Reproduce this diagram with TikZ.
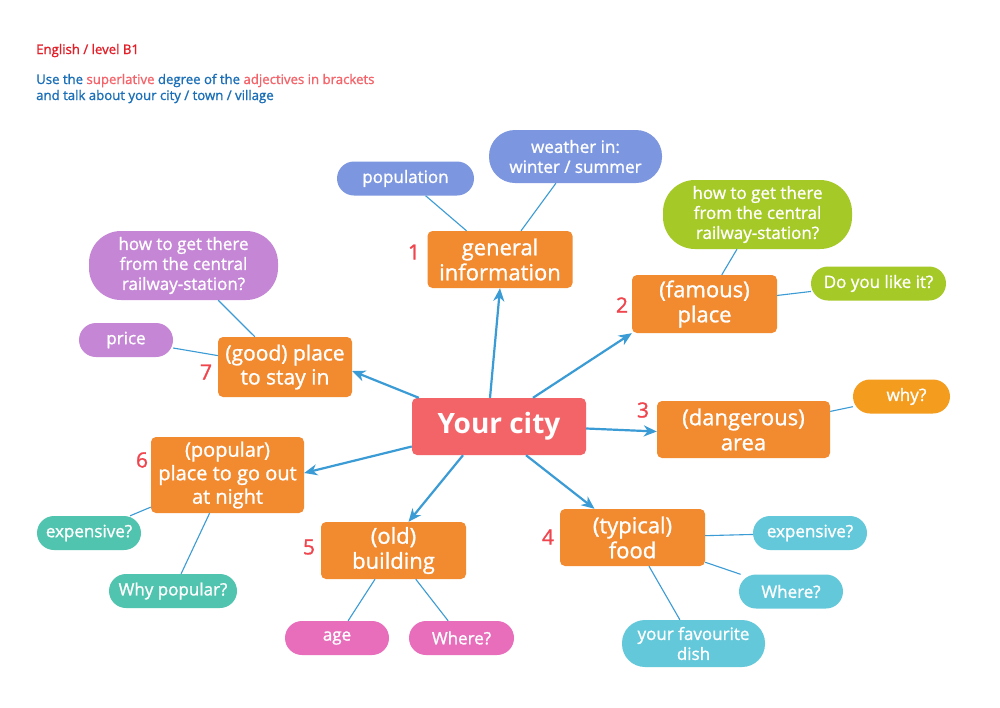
\documentclass[tikz,border=0pt]{standalone}
\usepackage{fontspec}
\setmainfont{Open Sans}
\newfontfamily\semifont{Open Sans}[FakeBold=1.2]
\usepackage{tikz}
\usetikzlibrary{arrows.meta}

\definecolor{boxorange}{HTML}{F28A30}
\definecolor{cityred}{HTML}{F26468}
\definecolor{linkblue}{HTML}{3A9BD5}
\definecolor{numred}{HTML}{F0454D}
\definecolor{titlered}{HTML}{E3202A}
\definecolor{titleblue}{HTML}{1A6FB8}
\definecolor{titlepink}{HTML}{F4646A}
\definecolor{genblue}{HTML}{7C96E0}
\definecolor{famgreen}{HTML}{A5C926}
\definecolor{whyorange}{HTML}{F39C1E}
\definecolor{foodcyan}{HTML}{63C9DA}
\definecolor{bldpink}{HTML}{E86DBB}
\definecolor{popteal}{HTML}{50C4AE}
\definecolor{staypurple}{HTML}{C486D5}

\begin{document}
\begin{tikzpicture}[x=1pt,y=-1pt,
    box/.style={fill=boxorange, text=white, rounded corners=5pt, align=center, inner sep=0pt, font=\semifont\fontsize{22}{25}\selectfont},
    bubble/.style={text=white, align=center, inner sep=0pt, minimum height=34pt, rounded corners=17pt, font=\semifont\fontsize{17}{20}\selectfont},
    num/.style={text=numred, inner sep=0pt, font=\semifont\fontsize{21}{21}\selectfont},
    twig/.style={draw=linkblue, line width=1.1pt},
    branch/.style={draw=linkblue, line width=2.2pt, -{Stealth[length=13pt,width=11pt,inset=4pt]}}]
        \fill[white] (0,0) rectangle (1000,707);
        \useasboundingbox (0,0) rectangle (1000,707);
        \node[anchor=base west, inner sep=0pt, text=titlered, font=\semifont\fontsize{13.2}{16}\selectfont] (title) at (36,54) {English / level B1};
        \node[anchor=base west, inner sep=0pt, text=titleblue, font=\semifont\fontsize{13.2}{16}\selectfont] (task1) at (36,84) {Use the \textcolor{titlepink}{superlative} degree of the \textcolor{titlepink}{adjectives in brackets}};
        \node[anchor=base west, inner sep=0pt, text=titleblue, font=\semifont\fontsize{13.2}{16}\selectfont] (task2) at (36,100) {and talk about your city / town / village};
        \node[fill=cityred, text=white, rounded corners=5pt, inner sep=0pt, minimum width=174pt, minimum height=57pt, font=\fontsize{28}{30}\selectfont\bfseries] (city) at (499,426.5) {Your city};
        \node[box, minimum width=145pt, minimum height=57pt] (general) at (500,259.5) {general\\information};
        \node[box, minimum width=145pt, minimum height=58pt] (famous) at (704.5,304) {(famous)\\place};
        \node[box, minimum width=173pt, minimum height=57pt] (dangerous) at (743.5,429.5) {(dangerous)\\area};
        \node[box, minimum width=145pt, minimum height=57pt] (food) at (632.5,537.5) {(typical)\\food};
        \node[box, minimum width=145pt, minimum height=57pt] (building) at (393.5,550.5) {(old)\\building};
        \node[box, minimum width=153pt, minimum height=76pt, font=\semifont\fontsize{20}{23.5}\selectfont] (popular) at (227.5,475) {(popular)\\place to go out\\at night};
        \node[box, minimum width=134pt, minimum height=60pt, font=\semifont\fontsize{21}{24}\selectfont] (stay) at (285,367) {(good) place\\to stay in};
        \node[num] (n1) at (414,252) {1};
        \node[num] (n2) at (622,305) {2};
        \node[num] (n3) at (643,410) {3};
        \node[num] (n4) at (548,537) {4};
        \node[num] (n5) at (309,547) {5};
        \node[num] (n6) at (142,460) {6};
        \node[num] (n7) at (206,372) {7};
        \node[bubble, fill=genblue, minimum width=137pt] (population) at (405.5,178.5) {population};
        \node[bubble, fill=genblue, minimum width=173pt, minimum height=53pt, rounded corners=26pt] (weather) at (575.5,156.5) {weather in:\\winter / summer};
        \node[bubble, fill=famgreen, minimum width=189pt, minimum height=69pt, rounded corners=32pt] (famroute) at (757.5,214.5) {how to get there\\from the central\\railway-station?};
        \node[bubble, fill=famgreen, minimum width=135pt] (like) at (878.5,283.5) {Do you like it?};
        \node[bubble, fill=whyorange, minimum width=97pt] (why) at (901.5,396.5) {\hspace{10pt}why?};
        \node[bubble, fill=foodcyan, minimum width=114pt] (foodprice) at (810,533) {expensive?};
        \node[bubble, fill=foodcyan, minimum width=104pt] (foodwhere) at (791,591.5) {Where?};
        \node[bubble, fill=foodcyan, minimum width=143pt, minimum height=47pt, rounded corners=23pt] (dish) at (693.5,643.5) {your favourite\\dish};
        \node[bubble, fill=bldpink, minimum width=104pt] (age) at (337,638) {age};
        \node[bubble, fill=bldpink, minimum width=105pt] (bldwhere) at (461.5,638) {Where?};
        \node[bubble, fill=popteal, minimum width=104pt] (popprice) at (89,533) {expensive?};
        \node[bubble, fill=popteal, minimum width=128pt] (popwhy) at (173,591) {Why popular?};
        \node[bubble, fill=staypurple, minimum width=94pt] (price) at (126,340) {price};
        \node[bubble, fill=staypurple, minimum width=189pt, minimum height=69pt, rounded corners=32pt] (stayroute) at (183.5,265.5) {how to get there\\from the central\\railway-station?};
        \draw[twig] (population) -- (general);
        \draw[twig] (weather) -- (general);
        \draw[twig] (famroute) -- (famous);
        \draw[twig] (like) -- (famous);
        \draw[twig] (why) -- (dangerous);
        \draw[twig] (foodprice) -- (food);
        \draw[twig] (foodwhere) -- (food);
        \draw[twig] (dish) -- (food);
        \draw[twig] (age) -- (building);
        \draw[twig] (bldwhere) -- (building);
        \draw[twig] (popprice) -- (popular);
        \draw[twig] (popwhy) -- (popular);
        \draw[twig] (price) -- (stay);
        \draw[twig] (stayroute) -- (stay);
        \draw[branch] ([xshift=-9pt]city.north) -- (general.south);
        \draw[branch] ([xshift=34pt]city.north) -- (famous.south west);
        \draw[branch] ([yshift=-2pt]city.east) -- ([yshift=-2pt]dangerous.west);
        \draw[branch] ([xshift=27pt]city.south) -- ([xshift=-38pt]food.north);
        \draw[branch] ([xshift=-36pt]city.south) -- ([xshift=15pt]building.north);
        \draw[branch] ([yshift=-20pt]city.west) -- ([yshift=2pt]popular.east);
        \draw[branch] ([xshift=7pt]city.north west) -- ([yshift=-4pt]stay.east);
    \end{tikzpicture}
\end{document}
